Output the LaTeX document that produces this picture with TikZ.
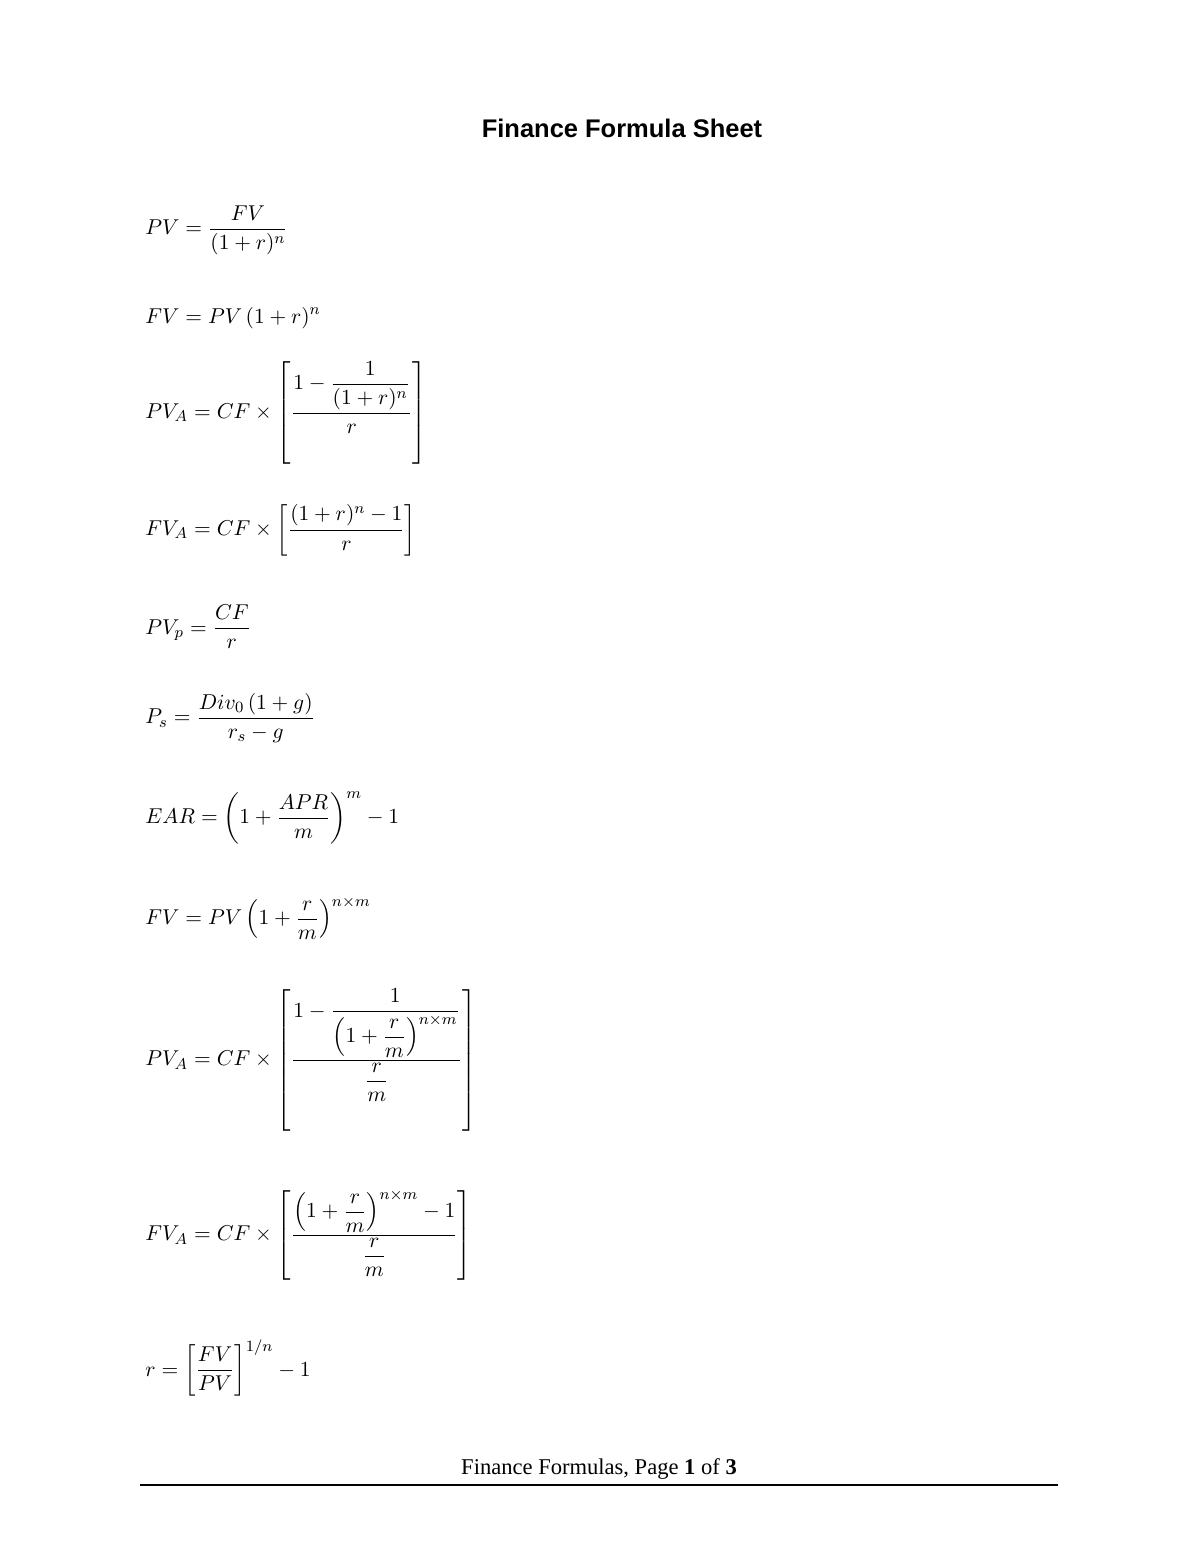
\documentclass[tikz,border=0pt]{standalone}
\usepackage{amsmath}
\usepackage{fontspec}
\setmainfont{Liberation Serif}
\newfontfamily\titlefont{Liberation Sans}
\begin{document}
\begin{tikzpicture}[x=0.51pt,y=-0.51pt,
  fml/.style={anchor=west,inner sep=0pt,font=\fontsize{11.2}{13}\selectfont}]
\useasboundingbox (0,0) rectangle (1200,1553);
\node[inner sep=0pt,font=\titlefont\bfseries\fontsize{13}{15}\selectfont] (title) at (622,128) {Finance Formula Sheet};
\node[fml] (f1) at (145,230) {$\displaystyle PV=\frac{FV}{(1+r)^n}$};
\node[fml] (f2) at (145,318) {$\displaystyle FV=PV\,(1+r)^n$};
\node[fml] (f3) at (145,413) {$\displaystyle PV_A=CF\times\left[\frac{1-\dfrac{1}{(1+r)^n}}{r}\right]$};
\node[fml] (f4) at (145,530) {$\displaystyle FV_A=CF\times\left[\frac{(1+r)^n-1}{r}\right]$};
\node[fml] (f5) at (145,627) {$\displaystyle PV_p=\frac{CF}{r}$};
\node[fml] (f6) at (145,718) {$\displaystyle P_s=\frac{Div_0\,(1+g)}{r_s-g}$};
\node[fml] (f7) at (145,818) {$\displaystyle EAR=\left(1+\frac{APR}{m}\right)^{m}-1$};
\node[fml] (f8) at (145,918) {$\displaystyle FV=PV\left(1+\frac{r}{m}\right)^{n\times m}$};
\node[fml] (f9) at (145,1060) {$\displaystyle PV_A=CF\times\left[\frac{1-\dfrac{1}{\left(1+\dfrac{r}{m}\right)^{n\times m}}}{\dfrac{r}{m}}\right]$};
\node[fml] (f10) at (145,1235) {$\displaystyle FV_A=CF\times\left[\frac{\left(1+\dfrac{r}{m}\right)^{n\times m}-1}{\dfrac{r}{m}}\right]$};
\node[fml] (f11) at (145,1368) {$\displaystyle r=\left[\frac{FV}{PV}\right]^{1/n}-1$};
\node[inner sep=0pt,font=\fontsize{11.5}{14}\selectfont] (foot) at (599,1469) {Finance Formulas, Page \textbf{1} of \textbf{3}};
\coordinate (l1) at (140,1485);
\coordinate (l2) at (1058,1485);
\draw[line width=1.2pt] (l1) -- (l2);
\end{tikzpicture}
\end{document}
